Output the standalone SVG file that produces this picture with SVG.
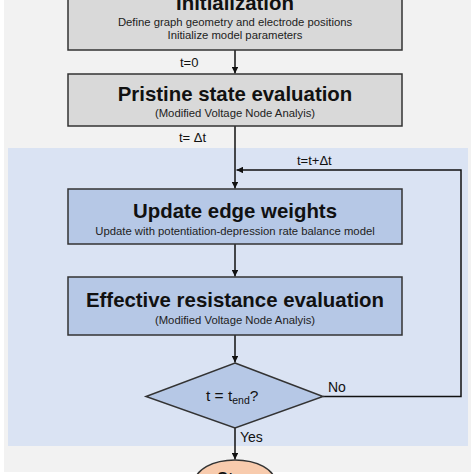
<svg xmlns="http://www.w3.org/2000/svg" width="474" height="474" viewBox="0 0 474 474">
<defs>
<style>
.box{stroke:#333;stroke-width:1.5}
.gray{fill:#d9d9d9}
.blue{fill:#b6c8e6}
.title{font-family:"Liberation Sans",Arial,sans-serif;font-weight:bold;font-size:20.4px;fill:#111;text-anchor:middle}
.sub{font-family:"Liberation Sans",Arial,sans-serif;font-size:11.3px;fill:#222;text-anchor:middle}
.lbl{font-family:"Liberation Sans",Arial,sans-serif;font-size:13px;fill:#111}
.conn{fill:none;stroke:#111;stroke-width:1.5}
</style>
<marker id="arr" viewBox="0 0 10 10" refX="10" refY="5" markerWidth="4.5" markerHeight="4.5" orient="auto" markerUnits="strokeWidth">
<path d="M0,0 L10,5 L0,10 z" fill="#111"/>
</marker>
</defs>
<rect x="0" y="0" width="474" height="474" fill="#ffffff"/>
<rect x="4" y="0" width="467" height="472" fill="#f2f2f2"/>
<rect x="8" y="148" width="460" height="298" fill="#dae3f3"/>

<g id="connectors">
<line class="conn" x1="235" y1="50" x2="235" y2="73.5" marker-end="url(#arr)"/>
<line class="conn" x1="235" y1="126" x2="235" y2="188.5" marker-end="url(#arr)"/>
<polyline class="conn" points="323,396.5 461,396.5 461,170 236.5,170" marker-end="url(#arr)"/>
<line class="conn" x1="235" y1="244" x2="235" y2="276.5" marker-end="url(#arr)"/>
<line class="conn" x1="235" y1="335" x2="235" y2="362.5" marker-end="url(#arr)"/>
<line class="conn" x1="235" y1="428" x2="235" y2="459.5" marker-end="url(#arr)"/>
<text class="lbl" x="180" y="67">t=0</text>
<text class="lbl" x="179" y="142">t= Δt</text>
<text class="lbl" x="297" y="165">t=t+Δt</text>
<text class="lbl" x="328" y="392" style="font-size:14px">No</text>
<text class="lbl" x="240" y="442" style="font-size:14px">Yes</text>
</g>

<g id="init">
<rect class="box gray" x="68" y="-12" width="334" height="62"/>
<text class="title" x="235" y="10">Initialization</text>
<text class="sub" x="235" y="26">Define graph geometry and electrode positions</text>
<text class="sub" x="235" y="39">Initialize model parameters</text>
</g>

<g id="pristine">
<rect class="box gray" x="68" y="74" width="334" height="52"/>
<text class="title" x="235" y="101">Pristine state evaluation</text>
<text class="sub" x="235" y="117">(Modified Voltage Node Analyis)</text>
</g>

<g id="update">
<rect class="box blue" x="68" y="189" width="334" height="55"/>
<text class="title" x="235" y="218">Update edge weights</text>
<text class="sub" x="235" y="235">Update with potentiation-depression rate balance model</text>
</g>

<g id="effective">
<rect class="box blue" x="68" y="277" width="334" height="58"/>
<text class="title" x="235" y="307">Effective resistance evaluation</text>
<text class="sub" x="235" y="324">(Modified Voltage Node Analyis)</text>
</g>

<g id="decision">
<polygon class="box blue" points="235,363 323,396.5 235,428 146,396.5"/>
<text x="206" y="401" style="font-family:'Liberation Sans',Arial,sans-serif;font-size:15.5px;fill:#111">t = t<tspan dy="3" style="font-size:10.5px">end</tspan><tspan dy="-3">?</tspan></text>
</g>

<g id="stop">
<ellipse cx="235" cy="482" rx="40" ry="22" fill="#f8cbad" stroke="#333" stroke-width="1.5"/>
<text class="title" x="235" y="484" style="font-size:16px">Stop</text>
</g>
</svg>
